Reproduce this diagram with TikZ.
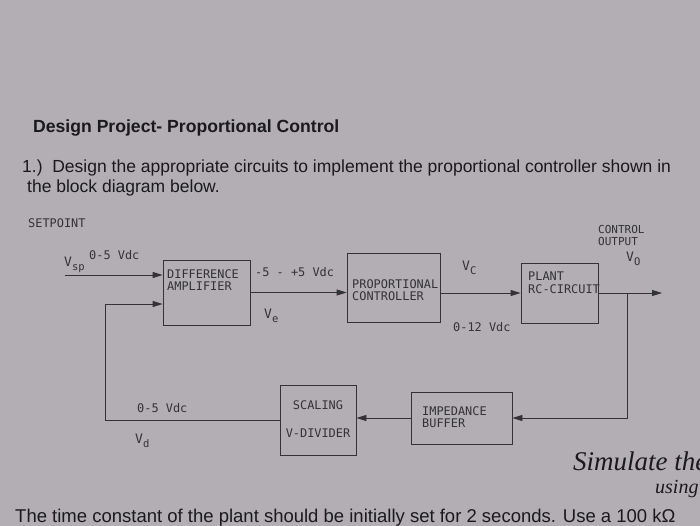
\documentclass[tikz,border=0pt]{standalone}
\usepackage{fontspec}
\setmainfont{Liberation Sans}
\newfontfamily\cadfont{DejaVu Sans Mono}
\newfontfamily\handfont{Liberation Serif}
\usetikzlibrary{arrows.meta}
\definecolor{paperlt}{RGB}{204,200,204}
\definecolor{paperdk}{RGB}{178,174,179}
\definecolor{ink}{RGB}{25,25,30}
\definecolor{cad}{RGB}{50,50,55}
\tikzset{
  blk/.style={draw=cad, line width=0.8pt, inner sep=0pt},
  cadtxt/.style={text=cad, font=\cadfont\fontsize{11.9}{12}\selectfont, inner sep=0pt, anchor=base west},
  bigv/.style={cadtxt, font=\cadfont\fontsize{13}{13}\selectfont},
  wire/.style={draw=cad, line width=0.8pt},
  arr/.style={wire, -{Triangle[length=10pt,width=6pt]}},
  doc/.style={text=ink, inner sep=0pt, anchor=base west},
}
\newcommand{\vsub}[1]{\raisebox{-4pt}{\fontsize{10.5}{11}\selectfont #1}}
\begin{document}
\begin{tikzpicture}[x=1pt,y=-1pt]
\useasboundingbox (0,0) rectangle (700,525);
\shade[top color=paperdk, middle color=paperlt, bottom color=paperdk] (0,0) rectangle (700,525);

% document text
\node[doc, font=\bfseries\fontsize{17.6}{19}\selectfont] (title) at (33,132) {Design Project- Proportional Control};
\node[doc, font=\fontsize{17.5}{19}\selectfont] (q1) at (22,172) {1.)\ \ Design the appropriate circuits to implement the proportional controller shown in};
\node[doc, font=\fontsize{17.5}{19}\selectfont] (q1b) at (27,192) {the block diagram below.};
\node[doc, font=\fontsize{18.5}{20}\selectfont] (bot) at (15,522) {The time constant of the plant should be initially set for 2 seconds. Use a 100 kΩ};

% handwriting
\begin{scope}
\clip (0,0) rectangle (700,525);
\node[doc, font=\handfont\itshape\fontsize{27}{28}\selectfont] (hw1) at (573,470) {Simulate the};
\node[doc, font=\handfont\itshape\fontsize{20}{22}\selectfont] (hw2) at (655,493) {using};
\end{scope}

% blocks
\node[blk, minimum width=87pt, minimum height=65pt] (diff) at (206.5,292.5) {};
\node[blk, minimum width=93pt, minimum height=69pt] (prop) at (393.5,287.5) {};
\node[blk, minimum width=77pt, minimum height=60pt] (plant) at (559.5,293) {};
\node[blk, minimum width=101pt, minimum height=52pt] (buf) at (461.5,418) {};
\node[blk, minimum width=76pt, minimum height=70pt] (scal) at (318,420) {};

% block texts
\node[cadtxt] (difft1) at (167,278) {DIFFERENCE};
\node[cadtxt] (difft2) at (167,290) {AMPLIFIER};
\node[cadtxt] (propt1) at (352,288) {PROPORTIONAL};
\node[cadtxt] (propt2) at (352,300) {CONTROLLER};
\node[cadtxt] (plantt1) at (528,280) {PLANT};
\node[cadtxt] (plantt2) at (528,293) {RC-CIRCUIT};
\node[cadtxt] (buft1) at (422,415) {IMPEDANCE};
\node[cadtxt] (buft2) at (422,427) {BUFFER};
\node[cadtxt, anchor=base] (scalt1) at (318,409) {SCALING};
\node[cadtxt, anchor=base] (scalt2) at (318,437) {V-DIVIDER};

% labels
\node[cadtxt] (setp) at (28,227) {SETPOINT};
\node[cadtxt] (r1) at (89,259) {0-5 Vdc};
\node[bigv] (vsp) at (64,266) {V\vsub{sp}};
\node[cadtxt] (r2) at (255,276) {-5 - +5 Vdc};
\node[bigv] (ve) at (264,318) {V\vsub{e}};
\node[bigv] (vc) at (462,270) {V\vsub{C}};
\node[cadtxt] (r3) at (453,331) {0-12 Vdc};
\node[cadtxt, font=\cadfont\fontsize{11}{11}\selectfont] (co1) at (598,233) {CONTROL};
\node[cadtxt, font=\cadfont\fontsize{11}{11}\selectfont] (co2) at (598,245) {OUTPUT};
\node[bigv] (vo) at (626,261) {V\vsub{O}};
\node[cadtxt] (r4) at (137,412) {0-5 Vdc};
\node[bigv] (vd) at (135,443) {V\vsub{d}};

% connectors
\coordinate (sp) at (65,275);
\coordinate (out) at (662,293);
\coordinate (br) at (627,293);
\coordinate (fbl) at (105,420);
\coordinate (fbt) at (105,304);

\draw[arr] (sp) -- (sp -| diff.west);
\draw[arr] (scal.west) -- (fbl) -- (fbt) -- (fbt -| diff.west);
\draw[arr] (diff.east) -- (diff.east -| prop.west);
\draw[arr] (plant.west -| prop.east) -- (plant.west);
\draw[arr] (plant.east) -- (out);
\draw[arr] (br) |- (buf.east);
\draw[arr] (buf.west) -- (buf.west -| scal.east);
\end{tikzpicture}
\end{document}
